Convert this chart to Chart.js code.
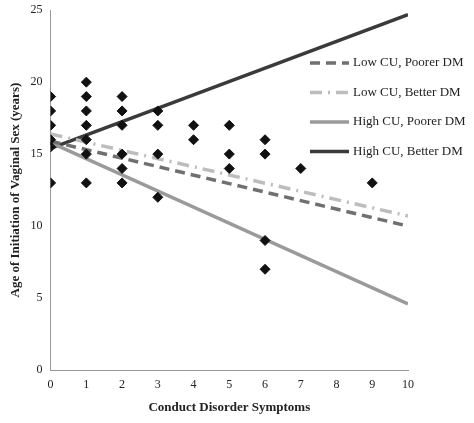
<!DOCTYPE html><html><head><script src="https://cdn.jsdelivr.net/npm/chart.js"></script>
<style>body{margin:0;background:#fff}#w{width:474px;height:423px}</style></head><body><div id="w"><canvas id="c"></canvas></div>
<script>
const xTicks=[0,1,2,3,4,5,6,7,8,9,10];
const scatterX=[0,0,0,0,0,0, 1,1,1,1,1,1,1, 2,2,2,2,2,2, 3,3,3,3, 4,4, 5,5,5, 6,6,6,6, 7, 9];
const scatterY=[19,18,17,16,15.5,13, 20,19,18,17,16,15,13, 19,18,17,15,14,13, 18,17,15,12, 17,16, 17,15,14, 16,15,9,7, 14, 13];
const lineNames=["Low CU, Poorer DM","Low CU, Better DM","High CU, Poorer DM","High CU, Better DM"];
const lineStart=[15.9,16.4,15.8,15.4];
const lineEnd=[10.0,10.7,4.6,24.7];
const colors=["#707070","#bdbdbd","#9a9a9a","#3a3a3a"];
const dashes=[[10,6],[12,6,2,6],[],[]];
const F="'Liberation Serif','Times New Roman',serif";
const ds=lineNames.map((n,i)=>({type:'line',label:n,data:[{x:0,y:lineStart[i]},{x:10,y:lineEnd[i]}],borderColor:colors[i],borderDash:dashes[i],borderWidth:3.5,pointRadius:0,order:1}));
ds.push({type:'scatter',label:'pts',data:scatterX.map((x,i)=>({x,y:scatterY[i]})),pointStyle:'rectRot',pointRadius:5,backgroundColor:'#111',borderColor:'#111',order:0});
const legendPlug={id:'lg',afterDraw(ch){const c=ch.ctx;c.save();c.font="13px "+F;c.fillStyle='#222';c.textBaseline='middle';
lineNames.forEach((n,i)=>{const y=63+i*29.5;c.beginPath();c.setLineDash(dashes[i]);c.strokeStyle=colors[i];c.lineWidth=3.5;c.moveTo(310,y);c.lineTo(349,y);c.stroke();c.setLineDash([]);c.fillText(n,353,y);});c.restore();}};
new Chart(document.getElementById('c'),{data:{datasets:ds},plugins:[legendPlug],options:{responsive:true,maintainAspectRatio:false,animation:false,
layout:{padding:{left:4,right:66,top:2,bottom:4}},
plugins:{legend:{display:false},tooltip:{enabled:false}},
scales:{x:{type:'linear',min:0,max:10,afterBuildTicks:a=>{a.ticks=xTicks.map(v=>({value:v}));},grid:{display:false,drawTicks:true,tickLength:5,color:'#999'},border:{color:'#999'},ticks:{color:'#222',font:{family:F,size:12}},title:{display:true,text:'Conduct Disorder Symptoms',font:{family:F,size:13,weight:'bold'},color:'#222',padding:{top:4}}},
y:{min:0,max:25,ticks:{stepSize:5,color:'#222',font:{family:F,size:12}},grid:{display:false,tickLength:5},border:{color:'#999'},title:{display:true,text:'Age of Initiation of Vaginal Sex (years)',font:{family:F,size:13,weight:'bold'},color:'#222'}}}}});
</script></body></html>
